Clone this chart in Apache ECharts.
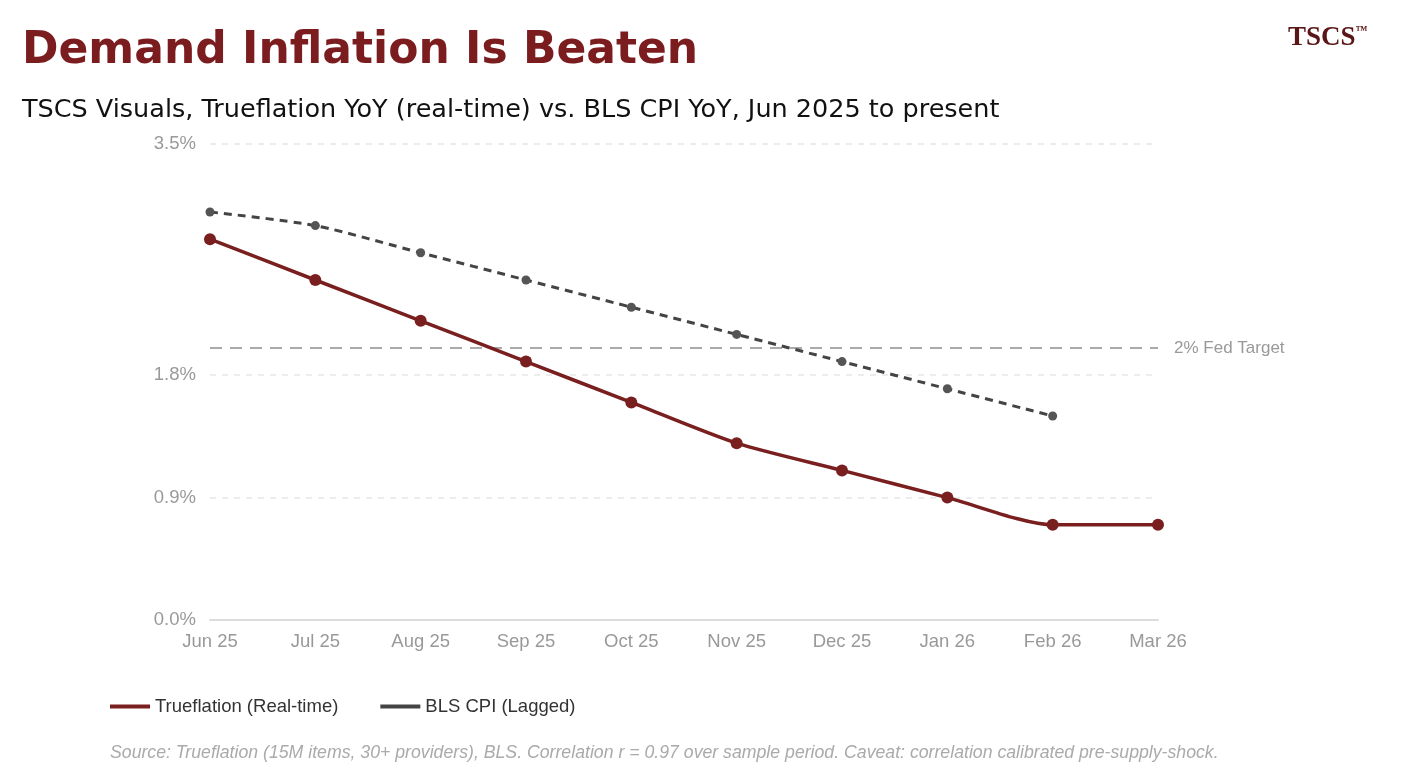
<!DOCTYPE html>
<html>
<head>
<meta charset="utf-8">
<script src="https://cdn.jsdelivr.net/npm/echarts@6/dist/echarts.min.js"></script>
<style>
html,body{margin:0;padding:0;background:#fff;}
#chart{width:1405px;height:776px;}
</style>
</head>
<body>
<div id="chart"></div>
<script>
const categories = ['Jun 25','Jul 25','Aug 25','Sep 25','Oct 25','Nov 25','Dec 25','Jan 26','Feb 26','Mar 26'];
const trueflation = [2.8, 2.5, 2.2, 1.9, 1.6, 1.3, 1.1, 0.9, 0.7, 0.7];
const blsCpi = [3.0, 2.9, 2.7, 2.5, 2.3, 2.1, 1.9, 1.7, 1.5, null];
const yTickValues = [0, 0.9, 1.8, 3.5];
const gridValues = [0.9, 1.8, 3.5];
const fedTarget = 2.0;

const chart = echarts.init(document.getElementById('chart'));
chart.setOption({
  backgroundColor: '#ffffff',
  animation: false,
  title: [
    { text: 'Demand Inflation Is Beaten', left: 17, top: 25,
      textStyle: { fontFamily: 'DejaVu Sans', fontWeight: 'bold', fontSize: 44, color: '#7b1c1f' } },
    { text: 'TSCS Visuals, Trueflation YoY (real-time) vs. BLS CPI YoY, Jun 2025 to present', left: 17, top: 92,
      textStyle: { fontFamily: 'DejaVu Sans', fontWeight: 'normal', fontSize: 25.5, color: '#111' } },
    { text: '{a|TSCS}{b|™}', left: 1283, top: 20,
      textStyle: { rich: {
        a: { fontFamily: 'Liberation Serif', fontSize: 27, color: '#5a1616' },
        b: { fontFamily: 'Liberation Serif', fontSize: 12, color: '#5a1616', verticalAlign: 'top', padding: [0, 0, 12, 0] }
      } } },
    { text: 'Source: Trueflation (15M items, 30+ providers), BLS. Correlation r = 0.97 over sample period. Caveat: correlation calibrated pre-supply-shock.',
      left: 105, top: 739,
      textStyle: { fontFamily: 'Liberation Sans', fontStyle: 'italic', fontWeight: 'normal', fontSize: 17.7, color: '#aaaaaa' } }
  ],
  legend: {
    left: 105, top: 692, itemGap: 42, itemWidth: 40, itemHeight: 4,
    icon: 'rect',
    textStyle: { fontFamily: 'Liberation Sans', fontSize: 18.5, color: '#333' },
    data: [
      { name: 'Trueflation (Real-time)', itemStyle: { color: '#7a1f1f' } },
      { name: 'BLS CPI (Lagged)', itemStyle: { color: '#444' } }
    ]
  },
  grid: { left: 210, right: 247, top: 144, bottom: 156 },
  xAxis: {
    type: 'category', data: categories, boundaryGap: false,
    axisLine: { show: true, lineStyle: { color: '#dcdcdc', width: 2 } },
    axisTick: { show: false },
    axisLabel: { fontFamily: 'Liberation Sans', fontSize: 18.5, color: '#999', margin: 12 },
    splitLine: { show: false }
  },
  yAxis: {
    type: 'value', min: 0, max: 3.5,
    axisLine: { show: false }, axisTick: { show: false },
    splitLine: { show: false },
    axisLabel: {
      customValues: yTickValues,
      fontFamily: 'Liberation Sans', fontSize: 18.5, color: '#999', margin: 14,
      formatter: v => v.toFixed(1) + '%'
    }
  },
  series: [
    {
      name: 'Trueflation (Real-time)', type: 'line', data: trueflation, smooth: 0.25,
      symbol: 'circle', symbolSize: 12, z: 5,
      lineStyle: { color: '#7a1f1f', width: 3.5 },
      itemStyle: { color: '#7a1f1f' },
      markLine: {
        silent: true, symbol: 'none', z: 1,
        data: [
          ...gridValues.map(v => ({ yAxis: v, lineStyle: { color: '#e6e6e6', width: 1.5, type: [6, 6] }, label: { show: false } })),
          { yAxis: fedTarget, lineStyle: { color: '#aaaaaa', width: 2, type: [12, 8] },
            label: { show: true, position: 'end', distance: 16, formatter: '2% Fed Target',
              fontFamily: 'Liberation Sans', fontSize: 17, color: '#999' } }
        ]
      }
    },
    {
      name: 'BLS CPI (Lagged)', type: 'line', data: blsCpi, smooth: 0.25,
      symbol: 'circle', symbolSize: 9, z: 4,
      lineStyle: { color: '#444', width: 3, type: [8, 6] },
      itemStyle: { color: '#555' }
    }
  ]
});
</script>
</body>
</html>
